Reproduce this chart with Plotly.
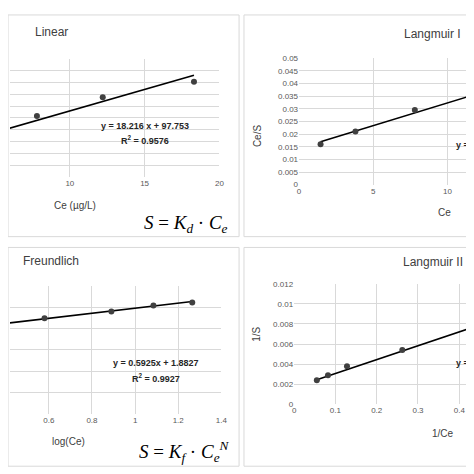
import plotly.graph_objects as go

W = H = 474
# Linear
lin_x = [1.4, 7.8, 12.2, 18.3]
lin_y = [90, 258, 338, 404]
lin_fit = [18.216, 97.753]
# Langmuir I
l1_x = [1.45, 3.8, 7.8, 12.2, 18.3]
l1_y = [0.016, 0.021, 0.0295, 0.036, 0.045]
l1_fit = [0.0018, 0.0143]
# Freundlich
fr_x = [0.15, 0.58, 0.89, 1.085, 1.265]
fr_y = [1.97, 2.24, 2.40, 2.54, 2.61]
fr_fit = [0.5925, 1.8827]
# Langmuir II
l2_x = [0.055, 0.082, 0.128, 0.262, 0.69]
l2_y = [0.0024, 0.0029, 0.0038, 0.0054, 0.011]
l2_fit = [0.0138, 0.0017]

def px(v): return v / W
def py(v): return 1 - v / H

fig = go.Figure()
panels = [
    (lin_x, lin_y, lin_fit, "x", "y"),
    (l1_x, l1_y, l1_fit, "x2", "y2"),
    (fr_x, fr_y, fr_fit, "x3", "y3"),
    (l2_x, l2_y, l2_fit, "x4", "y4"),
]
for xs, ys, fit, xa, ya in panels:
    x0, x1 = min(xs), max(xs)
    fig.add_trace(go.Scatter(x=[x0, x1], y=[fit[0]*x0+fit[1], fit[0]*x1+fit[1]], mode="lines",
                             line=dict(color="black", width=1.6), xaxis=xa, yaxis=ya, showlegend=False))
    fig.add_trace(go.Scatter(x=xs, y=ys, mode="markers", marker=dict(color="#404040", size=6),
                             xaxis=xa, yaxis=ya, showlegend=False, cliponaxis=True))

tf = dict(size=8, color="#595959", family="Liberation Sans")
ax = dict(showgrid=True, gridcolor="#d9d9d9", zeroline=False, showline=False, tickfont=tf, ticks="",
          tickformat="~g")
fig.update_layout(
    width=W, height=H, margin=dict(l=0, r=0, t=0, b=0), paper_bgcolor="white", plot_bgcolor="white",
    xaxis=dict(ax, domain=[0, px(213)], range=[6, 20], dtick=5, anchor="y"),
    yaxis=dict(ax, domain=[py(168), py(48)], range=[0, 500], dtick=50, showticklabels=False, anchor="x"),
    xaxis2=dict(ax, domain=[px(294), 1], range=[0, 11.92], dtick=5, anchor="y2"),
    yaxis2=dict(ax, domain=[py(176), py(47)], range=[0, 0.05], dtick=0.005, anchor="x2"),
    xaxis3=dict(ax, domain=[0, px(215)], range=[0.42, 1.4], dtick=0.2, anchor="y3"),
    yaxis3=dict(ax, domain=[py(410), py(279)], range=[0, 3], dtick=0.5, showticklabels=False, anchor="x3"),
    xaxis4=dict(ax, domain=[px(289), 1], range=[0, 0.4405], dtick=0.1, anchor="y4"),
    yaxis4=dict(ax, domain=[py(400), py(277)], range=[0, 0.012], dtick=0.002, anchor="x4"),
)
gray = "#d9d9d9"
for x0, x1, y0, y1 in [(-2, 233, 3, 229), (238, 476, 3, 229), (-2, 233, 240, 463), (238, 476, 240, 463)]:
    fig.add_shape(type="rect", xref="paper", yref="paper", x0=px(x0), x1=px(x1), y0=py(y1), y1=py(y0),
                  line=dict(color=gray, width=1), fillcolor="rgba(0,0,0,0)")

lf = dict(family="Liberation Sans", color="#404040")
def ann(text, x, y, size, xanchor="center", bold=False, font=None):
    f = dict(font or lf, size=size)
    fig.add_annotation(text=f"<b>{text}</b>" if bold else text, x=px(x), y=py(y), xref="paper", yref="paper",
                       showarrow=False, xanchor=xanchor, yanchor="middle", font=f)

ann("Linear", 42, 20, 12)
ann("Langmuir I", 430, 22, 12)
ann("Freundlich", 42, 254, 12)
ann("Langmuir II", 430, 255, 12)
ann("Ce (µg/L)", 66, 197, 10)
ann("Ce", 442, 204, 10)
ann("log(Ce)", 60, 438, 10)
ann("1/Ce", 440, 430, 10)
fig.add_annotation(text="Ce/S", x=px(252), y=py(112), xref="paper", yref="paper", showarrow=False,
                   textangle=-90, font=dict(lf, size=10))
fig.add_annotation(text="1/S", x=px(250), y=py(338), xref="paper", yref="paper", showarrow=False,
                   textangle=-90, font=dict(lf, size=10))
bf = dict(family="Liberation Sans", color="#262626")
ann("y = 18.216 x + 97.753", 137, 116, 9, bold=True, font=bf)
ann("R<sup>2</sup> = 0.9576", 137, 130, 9, bold=True, font=bf)
ann("y = 0.5925x + 1.8827", 148, 358, 9, bold=True, font=bf)
ann("R<sup>2</sup> = 0.9927", 148, 373, 9, bold=True, font=bf)
ann("y = 0.0018x + 0.0143", 452, 136, 9, xanchor="left", bold=True, font=bf)
ann("y = 0.0138x + 0.0017", 452, 358, 9, xanchor="left", bold=True, font=bf)
tfm = dict(family="Liberation Serif", color="black")
ann("<i>S</i> = <i>K<sub>d</sub></i> · <i>C<sub>e</sub></i>", 224, 216, 19, xanchor="right", font=tfm)
ann("<i>S</i> = <i>K<sub>f</sub></i> · <i>C<sub>e</sub><sup>N</sup></i>", 226, 448, 19, xanchor="right", font=tfm)

fig.write_html("out.html")
